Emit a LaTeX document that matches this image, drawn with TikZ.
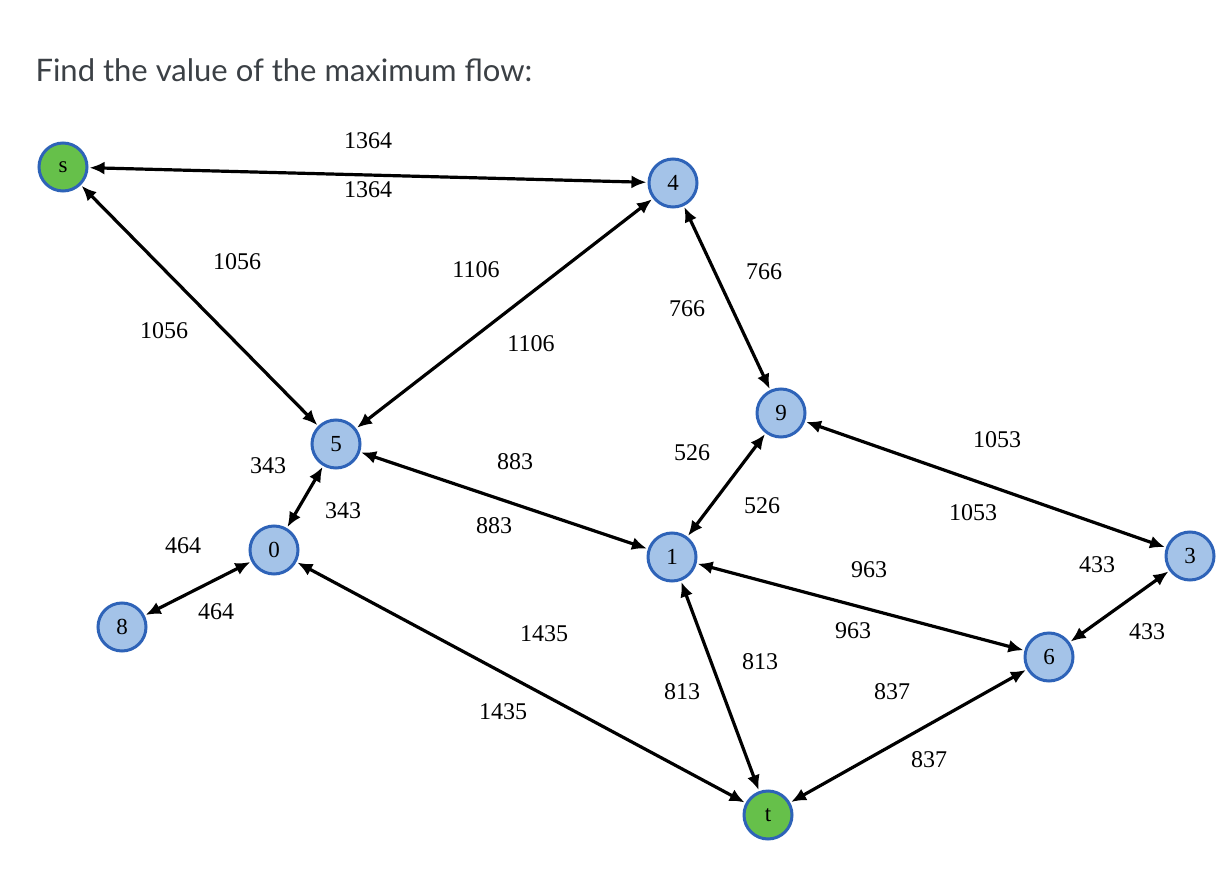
\documentclass[tikz,border=0pt]{standalone}
\usepackage{fontspec}
\setmainfont{Liberation Serif}
\newfontfamily\latof{Lato}
\usetikzlibrary{arrows.meta}
\definecolor{nb}{HTML}{A4C3E8}
\definecolor{nd}{HTML}{2E63B8}
\definecolor{ng}{HTML}{66C04A}
\definecolor{tt}{HTML}{3B4045}
\begin{document}
\begin{tikzpicture}[x=1pt,y=-1pt,
  v/.style={circle,draw=nd,line width=3pt,fill=nb,minimum size=48pt,inner sep=0pt,font=\fontsize{23}{26}\selectfont},
  g/.style={v,fill=ng},
  e/.style={line width=3.2pt,{Latex[length=15pt,width=13pt]}-{Latex[length=15pt,width=13pt]},shorten <=1pt,shorten >=1pt},
  l/.style={font=\fontsize{24}{26}\selectfont}]
\useasboundingbox (0,0) rectangle (1220,874);
\node[anchor=west,font=\latof\fontsize{31}{36}\selectfont,text=tt] (title) at (32,70) {Find the value of the maximum flow:};
\node[g] (s) at (63,167) {s};
\node[v] (n4) at (673,183) {4};
\node[v] (n9) at (781,413) {9};
\node[v] (n5) at (336,444) {5};
\node[v] (n0) at (274,550) {0};
\node[v] (n1) at (672,557) {1};
\node[v] (n3) at (1190,556) {3};
\node[v] (n8) at (122,627) {8};
\node[v] (n6) at (1049,657) {6};
\node[g] (t) at (768,815) {t};
\draw[e] (s)--(n4);
\draw[e] (s)--(n5);
\draw[e] (n5)--(n4);
\draw[e] (n4)--(n9);
\draw[e] (n9)--(n1);
\draw[e] (n9)--(n3);
\draw[e] (n5)--(n1);
\draw[e] (n5)--(n0);
\draw[e] (n8)--(n0);
\draw[e] (n1)--(n6);
\draw[e] (n6)--(n3);
\draw[e] (n0)--(t);
\draw[e] (n1)--(t);
\draw[e] (t)--(n6);
\node[l] (a1) at (368,141) {1364}; \node[l] (a2) at (368,190) {1364};
\node[l] (b1) at (237,262) {1056}; \node[l] (b2) at (164,331) {1056};
\node[l] (c1) at (476,270) {1106}; \node[l] (c2) at (531,344) {1106};
\node[l] (d1) at (764,272) {766}; \node[l] (d2) at (687,309) {766};
\node[l] (f1) at (692,453) {526}; \node[l] (f2) at (762,506) {526};
\node[l] (g1) at (997,440) {1053}; \node[l] (g2) at (973,513) {1053};
\node[l] (h1) at (515,462) {883}; \node[l] (h2) at (494,526) {883};
\node[l] (i1) at (268,466) {343}; \node[l] (i2) at (343,511) {343};
\node[l] (j1) at (183,546) {464}; \node[l] (j2) at (216,612) {464};
\node[l] (k1) at (869,570) {963}; \node[l] (k2) at (853,631) {963};
\node[l] (m1) at (1097,565) {433}; \node[l] (m2) at (1147,632) {433};
\node[l] (o1) at (544,634) {1435}; \node[l] (o2) at (503,712) {1435};
\node[l] (p1) at (760,662) {813}; \node[l] (p2) at (682,692) {813};
\node[l] (q1) at (892,692) {837}; \node[l] (q2) at (929,760) {837};
\end{tikzpicture}
\end{document}
